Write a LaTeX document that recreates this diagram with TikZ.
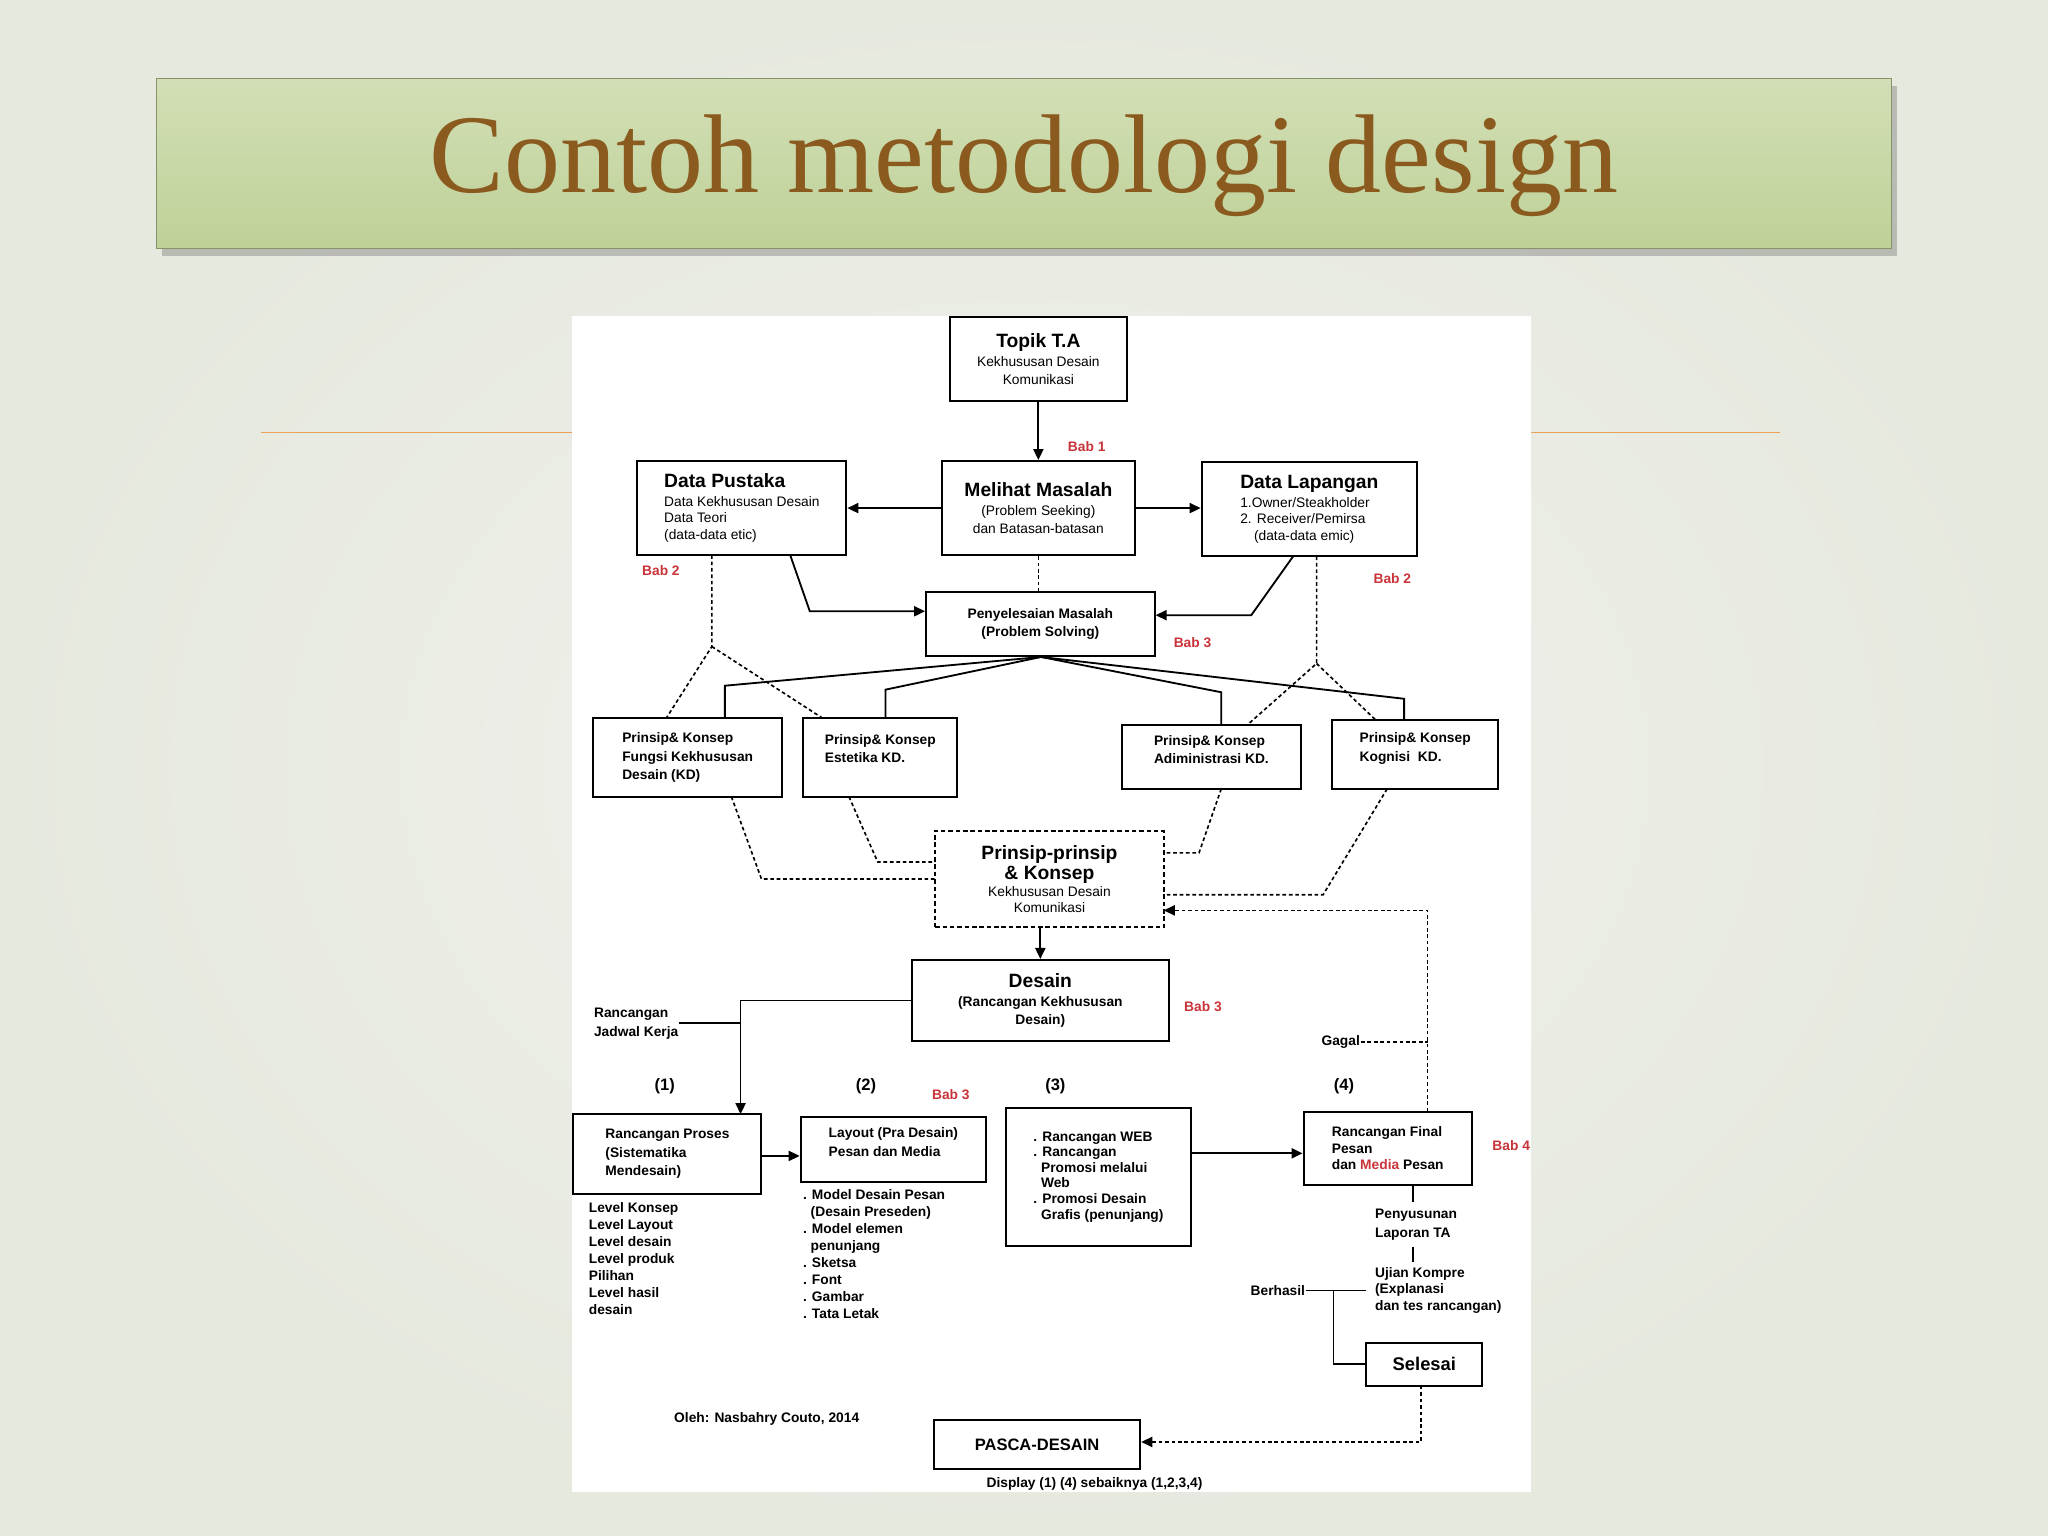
\documentclass[tikz,border=0pt]{standalone}
\usepackage{fontspec}
\setmainfont{Liberation Sans}
\newfontfamily\titlefont{Liberation Serif}
\usetikzlibrary{arrows.meta,shadows}
\definecolor{bg}{HTML}{E6E9DE}
\definecolor{bgc}{HTML}{F1F2EE}
\definecolor{barc}{HTML}{BFD197}
\definecolor{titc}{HTML}{8A5A1E}
\definecolor{babred}{HTML}{C8343A}
\definecolor{orng}{HTML}{E8A25A}
\tikzset{
 box/.style={draw=black,line width=2.2pt,fill=white,align=left,inner sep=4pt,font=\fontsize{15}{20}\selectfont\bfseries},
 dbox/.style={box,dashed,dash pattern=on 5pt off 3pt},
 ln/.style={line width=2pt},
 dl/.style={line width=1.8pt,dash pattern=on 4pt off 3pt},
 arr/.style={-{Triangle[length=12pt,width=11pt]}},
 bab/.style={text=babred,font=\fontsize{15}{17}\selectfont\bfseries},
 lbl/.style={align=left,font=\fontsize{15}{20.5}\selectfont\bfseries,inner sep=1pt},
 hd/.style={font=\fontsize{21}{24}\selectfont\bfseries}
}
\newcommand\hdt[1]{{\fontsize{21}{23}\selectfont #1}}
\begin{document}
\begin{tikzpicture}[x=0.05cm,y=-0.05cm]
\useasboundingbox (0,0) rectangle (1568,1176);
\shade[inner color=bgc,outer color=bg] (0,0) rectangle (1568,1176);
% title bar
\fill[black!45,opacity=0.5] (124,66) rectangle (1452,196);
\shade[top color=barc!70!white,bottom color=barc] (120,60) rectangle (1448,190);
\draw[barc!70!black,line width=0.8pt] (120,60) rectangle (1448,190);
\node[text=titc,font=\titlefont\fontsize{122}{130}\selectfont] (title) at (784,127) {Contoh metodologi design};
\draw[orng,line width=1.5pt] (200,331) -- (1363,331);
\fill[white] (438,242) rectangle (1172,1142);

% boxes
\node[box,minimum width=6.8cm,minimum height=3.2cm,align=center] (topik) at (795,275) {\hdt{Topik T.A}\\\mdseries Kekhususan Desain\\\mdseries Komunikasi};
\node[box,minimum width=7.4cm,minimum height=3.6cm,align=center] (melihat) at (795,389) {\hdt{Melihat Masalah}\\\mdseries (Problem Seeking)\\\mdseries dan Batasan-batasan};
\node[box,minimum width=8cm,minimum height=3.6cm] (pustaka) at (568,389) {\hdt{Data Pustaka}\\\mdseries Data Kekhususan Desain\\[-2pt]\mdseries Data Teori\\[-2pt]\mdseries (data-data etic)};
\node[box,minimum width=8.25cm,minimum height=3.6cm] (lapangan) at (1002.5,390) {\hdt{Data Lapangan}\\\mdseries 1.Owner/Steakholder\\[-2pt]\mdseries 2. Receiver/Pemirsa\\[-2pt]\mdseries \quad(data-data emic)};
\node[box,minimum width=8.75cm,minimum height=2.45cm,align=center] (solve) at (796.5,477.5) {Penyelesaian Masalah\\(Problem Solving)};
\node[box,minimum width=7.25cm,minimum height=3cm] (p1) at (526.5,580) {Prinsip\& Konsep\\Fungsi Kekhususan\\Desain (KD)};
\node[box,minimum width=5.9cm,minimum height=3cm] (p2) at (674,580) {Prinsip\& Konsep\\Estetika KD.\\\phantom{X}};
\node[box,minimum width=6.85cm,minimum height=2.45cm] (p3) at (927.5,579.5) {Prinsip\& Konsep\\Adiministrasi KD.\\[-4pt]\phantom{}};
\node[box,minimum width=6.35cm,minimum height=2.65cm] (p4) at (1083.5,577.5) {Prinsip\& Konsep\\Kognisi\ \ KD.\\[-4pt]\phantom{}};
\node[dbox,minimum width=8.75cm,minimum height=3.7cm,align=center] (prinsip) at (803.5,673) {\hdt{Prinsip-prinsip}\\[1pt]\hdt{\& Konsep}\\[-1pt]\mdseries Kekhususan Desain\\[-3pt]\mdseries Komunikasi};
\node[box,minimum width=9.85cm,minimum height=3.1cm,align=center] (desain) at (796.5,766) {\hdt{Desain}\\(Rancangan Kekhususan\\Desain)};
\node[box,minimum width=7.2cm,minimum height=3.05cm] (proses) at (511,883.5) {Rancangan Proses\\(Sistematika\\Mendesain)};
\node[box,minimum width=7.1cm,minimum height=2.5cm] (layout) at (684,880) {Layout (Pra Desain)\\Pesan dan Media\\[-4pt]\phantom{}};
\node[box,minimum width=7.1cm,minimum height=5.3cm] (web) at (841,901) {. Rancangan WEB\\[-3pt]. Rancangan\\[-3pt]\ \ Promosi melalui\\[-3pt]\ \ Web\\[-3pt]. Promosi Desain\\[-3pt]\ \ Grafis (penunjang)};
\node[box,minimum width=6.45cm,minimum height=2.8cm] (final) at (1062.5,879) {Rancangan Final\\[-2pt]Pesan\\[-2pt]dan \textcolor{babred}{Media} Pesan};
\node[box,minimum width=4.45cm,minimum height=1.65cm,font=\fontsize{20}{22}\selectfont\bfseries] (selesai) at (1090.5,1044.5) {Selesai};
\node[box,minimum width=7.9cm,minimum height=1.9cm,font=\fontsize{18}{20}\selectfont\bfseries] (pasca) at (794,1106) {PASCA-DESAIN};

% labels
\node[bab] (b1) at (832,342) {Bab 1};
\node[bab] (b2a) at (506,437) {Bab 2};
\node[bab] (b2b) at (1066,443) {Bab 2};
\node[bab] (b3a) at (913,492) {Bab 3};
\node[bab] (b3b) at (921,771) {Bab 3};
\node[bab] (b3c) at (728,838) {Bab 3};
\node[bab] (b4) at (1157,877) {Bab 4};
\node[lbl,font=\fontsize{18}{20}\selectfont\bfseries] (n1) at (509,832) {(1)};
\node[lbl,font=\fontsize{18}{20}\selectfont\bfseries] (n2) at (663,832) {(2)};
\node[lbl,font=\fontsize{18}{20}\selectfont\bfseries] (n3) at (808,832) {(3)};
\node[lbl,font=\fontsize{18}{20}\selectfont\bfseries] (n4) at (1029,832) {(4)};
\node[lbl,anchor=west] (jadwal) at (454,783.5) {Rancangan\\Jadwal Kerja};
\node[lbl,anchor=north west] (lv) at (450,920) {Level Konsep\\[-2pt]Level Layout\\[-2pt]Level desain\\[-2pt]Level produk\\[-2pt]Pilihan\\[-2pt]Level hasil\\[-2pt]desain};
\node[lbl,anchor=north west] (md) at (614,910) {. Model Desain Pesan\\[-2pt]\ \ (Desain Preseden)\\[-2pt]. Model elemen\\[-2pt]\ \ penunjang\\[-2pt]. Sketsa\\[-2pt]. Font\\[-2pt]. Gambar\\[-2pt]. Tata Letak};
\node[lbl,anchor=west] (lap) at (1052,937.5) {Penyusunan\\Laporan TA};
\node[lbl,anchor=west] (uji) at (1052,988) {Ujian Kompre\\[-2pt](Explanasi\\[-2pt]dan tes rancangan)};
\node[lbl,anchor=east] (berhasil) at (1000,988) {Berhasil};
\node[lbl,anchor=east] (gagal) at (1042,798) {Gagal};
\node[lbl] (oleh) at (587,1086) {Oleh: Nasbahry Couto, 2014};
\node[lbl] (disp) at (838,1136) {Display (1) (4) sebaiknya (1,2,3,4)};

% connectors
\draw[ln,arr] (topik.south) -- (melihat.north);
\draw[ln,arr] (melihat.west) -- (pustaka.east |- melihat.west);
\draw[ln,arr] (melihat.east) -- (lapangan.west |- melihat.east);
\draw[dl] (melihat.south) -- (solve.north -| melihat.south);
\draw[ln,arr] (605,425) -- (620,468) -- (solve.west |- 0,468);
\draw[ln,arr] (990,426) -- (958,471) -- (solve.east |- 0,471);
\draw[ln] (797,503) -- (555,525) -- (555,550);
\draw[ln] (797,503) -- (678,528) -- (678,550);
\draw[ln] (797,503) -- (935,530) -- (935,555);
\draw[ln] (797,503) -- (1075,535) -- (1075,551);
\draw[dl] (545,425) -- (545,495) -- (510,550);
\draw[dl] (545,495) -- (630,550);
\draw[dl] (1008,426) -- (1008,508) -- (955,555);
\draw[dl] (1008,508) -- (1053,551);
\draw[dl] (560,610) -- (583,673) -- (716,673);
\draw[dl] (650,610) -- (672,660) -- (716,660);
\draw[dl] (935,604) -- (918,653) -- (891,653);
\draw[dl] (1062,604) -- (1013,685) -- (891,685);
\draw[ln,arr] (796.5,710) -- (desain.north);
\draw[ln,arr] (desain.west) -- (567,766) -- (567,853);
\draw[ln] (jadwal.east) -- (567,783.5);
\draw[ln,arr] (proses.east |- 0,885) -- (layout.west |- 0,885);
\draw[ln,arr] (web.east |- 0,883) -- (final.west |- 0,883);
\draw[dl,arr] (1093,851) -- (1093,697) -- (891,697);
\draw[dl] (gagal.east) -- (1093,798);
\draw[ln] (1082,907) -- (1082,920);
\draw[ln] (1082,955) -- (1082,966);
\draw[ln] (berhasil.east) -- (1046,988);
\draw[ln] (1021,988) -- (1021,1044.5) -- (selesai.west);
\draw[dl,arr] (1088,1061) -- (1088,1104) -- (pasca.east |- 0,1104);
\end{tikzpicture}
\end{document}
